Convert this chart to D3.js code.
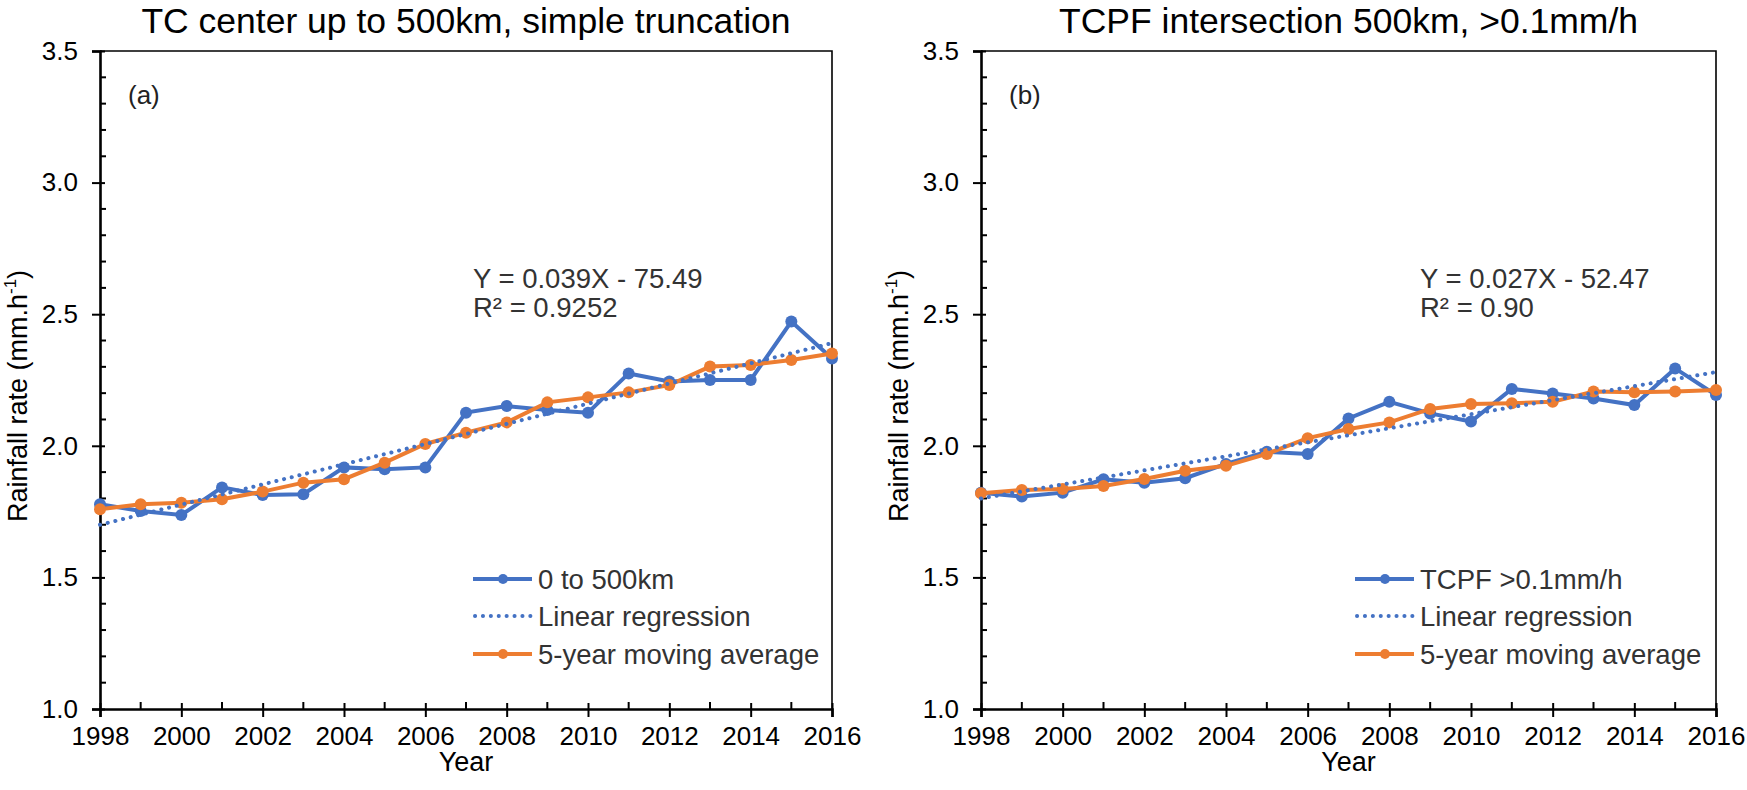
<!DOCTYPE html>
<html>
<head>
<meta charset="utf-8">
<script src="https://cdn.jsdelivr.net/npm/d3@7.9.0/dist/d3.min.js"></script>
<style>
  body { margin: 0; background: #fff; }
  svg { font-family: "Liberation Sans", Arial, sans-serif; }
</style>
</head>
<body>
<svg id="chart" width="1747" height="790"></svg>
<script>
// Data
const years = [1998, 1999, 2000, 2001, 2002, 2003, 2004, 2005, 2006, 2007,
               2008, 2009, 2010, 2011, 2012, 2013, 2014, 2015, 2016];

const rainA = [1.778, 1.752, 1.737, 1.842, 1.813, 1.816, 1.918, 1.911, 1.918, 2.126,
               2.151, 2.136, 2.126, 2.275, 2.244, 2.250, 2.250, 2.472, 2.332];
const avgA  = [1.759, 1.778, 1.784, 1.797, 1.826, 1.860, 1.873, 1.936, 2.007, 2.050,
               2.089, 2.165, 2.184, 2.203, 2.231, 2.301, 2.307, 2.326, 2.351];
const trendA = [1.70, 2.39];   // regression line at 1998 and 2016

const rainB = [1.822, 1.807, 1.822, 1.873, 1.860, 1.877, 1.931, 1.977, 1.969, 2.104,
               2.167, 2.123, 2.092, 2.216, 2.199, 2.180, 2.155, 2.294, 2.193];
const avgB  = [1.820, 1.832, 1.836, 1.847, 1.874, 1.905, 1.924, 1.969, 2.029, 2.064,
               2.089, 2.140, 2.159, 2.162, 2.167, 2.206, 2.203, 2.206, 2.212];
const trendB = [1.80, 2.28];

const yTicks = [1.0, 1.5, 2.0, 2.5, 3.0, 3.5];
const yMinor = [1.1, 1.2, 1.3, 1.4, 1.6, 1.7, 1.8, 1.9, 2.1, 2.2, 2.3, 2.4,
                2.6, 2.7, 2.8, 2.9, 3.1, 3.2, 3.3, 3.4];
const xTicks = [1998, 2000, 2002, 2004, 2006, 2008, 2010, 2012, 2014, 2016];

const panels = [
  {
    left: 100, right: 832, title: "TC center up to 500km, simple truncation",
    tag: "(a)", rain: rainA, avg: avgA, trend: trendA, eqX: 473, legX: 473,
    eq: ["Y = 0.039X - 75.49", "R² = 0.9252"],
    legend: ["0 to 500km", "Linear regression", "5-year moving average"]
  },
  {
    left: 981, right: 1716, title: "TCPF intersection 500km, >0.1mm/h",
    tag: "(b)", rain: rainB, avg: avgB, trend: trendB, eqX: 1420, legX: 1355,
    eq: ["Y = 0.027X - 52.47", "R² = 0.90"],
    legend: ["TCPF >0.1mm/h", "Linear regression", "5-year moving average"]
  }
];

const blue = "#4472C4";
const orange = "#ED7D31";
const plotTop = 51, plotBottom = 709;

const svg = d3.select("#chart");

panels.forEach((p) => {
  const x = d3.scaleLinear().domain([1998, 2016]).range([p.left, p.right]);
  const y = d3.scaleLinear().domain([1.0, 3.5]).range([plotBottom, plotTop]);
  const g = svg.append("g");

  // frame (top and right)
  g.append("path")
    .attr("d", `M${p.left},${plotTop}H${p.right}V${plotBottom}`)
    .attr("fill", "none").attr("stroke", "#000").attr("stroke-width", 1.6);

  // y axis
  const yAxis = g.append("g").attr("transform", `translate(${p.left},0)`)
    .call(d3.axisLeft(y).tickValues(yTicks).tickFormat(d3.format(".1f"))
      .tickSize(8).tickPadding(14));
  yAxis.select(".domain").attr("stroke-width", 2.6);
  yAxis.selectAll(".tick line").attr("x2", -8).attr("x1", 5).attr("stroke-width", 2);
  yAxis.selectAll(".tick text").attr("font-size", 26).attr("fill", "#000")
    .attr("font-family", "Liberation Sans, Arial, sans-serif");
  g.append("g").selectAll("line").data(yMinor).join("line")
    .attr("x1", p.left).attr("x2", p.left + 6)
    .attr("y1", (d) => y(d)).attr("y2", (d) => y(d))
    .attr("stroke", "#000").attr("stroke-width", 2);

  // x axis
  const xAxis = g.append("g").attr("transform", `translate(0,${plotBottom})`)
    .call(d3.axisBottom(x).tickValues(xTicks).tickFormat(d3.format("d"))
      .tickSize(8).tickPadding(10));
  xAxis.select(".domain").attr("stroke-width", 2.6);
  xAxis.selectAll(".tick line").attr("y1", -6).attr("y2", 8).attr("stroke-width", 2);
  xAxis.selectAll(".tick text").attr("font-size", 26).attr("fill", "#000")
    .attr("font-family", "Liberation Sans, Arial, sans-serif");
  g.append("g").selectAll("line").data(years.filter((d) => !xTicks.includes(d))).join("line")
    .attr("x1", (d) => x(d)).attr("x2", (d) => x(d))
    .attr("y1", plotBottom).attr("y2", plotBottom - 7)
    .attr("stroke", "#000").attr("stroke-width", 2);

  const mid = (p.left + p.right) / 2;

  // title and axis labels
  g.append("text").attr("x", mid).attr("y", 33).attr("text-anchor", "middle")
    .attr("font-size", 35.5).attr("fill", "#000").text(p.title);
  g.append("text").attr("x", mid).attr("y", 771).attr("text-anchor", "middle")
    .attr("font-size", 27).attr("fill", "#000").text("Year");
  const yl = g.append("text")
    .attr("transform", `translate(${p.left - 73},396) rotate(-90)`)
    .attr("text-anchor", "middle").attr("font-size", 27).attr("fill", "#000");
  yl.append("tspan").text("Rainfall rate (mm.h");
  yl.append("tspan").attr("font-size", 17).attr("dy", -11).text("-1");
  yl.append("tspan").attr("dy", 11).text(")");

  g.append("text").attr("x", p.left + 28).attr("y", 104)
    .attr("font-size", 26).attr("fill", "#222").text(p.tag);

  // equation
  p.eq.forEach((t, i) => {
    g.append("text").attr("x", p.eqX).attr("y", 288 + i * 29)
      .attr("font-size", 27.5).attr("fill", "#333").text(t);
  });

  // series
  const line = d3.line().x((d, i) => x(years[i])).y((d) => y(d));

  g.append("path").datum(p.rain).attr("d", line)
    .attr("fill", "none").attr("stroke", blue).attr("stroke-width", 4);
  g.append("g").selectAll("circle").data(p.rain).join("circle")
    .attr("cx", (d, i) => x(years[i])).attr("cy", (d) => y(d)).attr("r", 6)
    .attr("fill", blue);

  g.append("path").datum(p.avg).attr("d", line)
    .attr("fill", "none").attr("stroke", orange).attr("stroke-width", 4);
  g.append("g").selectAll("circle").data(p.avg).join("circle")
    .attr("cx", (d, i) => x(years[i])).attr("cy", (d) => y(d)).attr("r", 6)
    .attr("fill", orange);

  g.append("line")
    .attr("x1", x(1998)).attr("y1", y(p.trend[0]))
    .attr("x2", x(2016)).attr("y2", y(p.trend[1]))
    .attr("stroke", blue).attr("stroke-width", 4)
    .attr("stroke-linecap", "round").attr("stroke-dasharray", "0.1 7.8");

  // legend
  const lx = p.legX;
  const ly = [579, 616, 654];
  const lg = g.append("g");
  lg.append("line").attr("x1", lx).attr("x2", lx + 59).attr("y1", ly[0]).attr("y2", ly[0])
    .attr("stroke", blue).attr("stroke-width", 4);
  lg.append("circle").attr("cx", lx + 30).attr("cy", ly[0]).attr("r", 5).attr("fill", blue);
  lg.append("line").attr("x1", lx + 2).attr("x2", lx + 59).attr("y1", ly[1]).attr("y2", ly[1])
    .attr("stroke", blue).attr("stroke-width", 4)
    .attr("stroke-linecap", "round").attr("stroke-dasharray", "0.1 7.8");
  lg.append("line").attr("x1", lx).attr("x2", lx + 59).attr("y1", ly[2]).attr("y2", ly[2])
    .attr("stroke", orange).attr("stroke-width", 4);
  lg.append("circle").attr("cx", lx + 30).attr("cy", ly[2]).attr("r", 5).attr("fill", orange);

  p.legend.forEach((t, i) => {
    lg.append("text").attr("x", lx + 65).attr("y", ly[i] + 9.5)
      .attr("font-size", 27.5).attr("fill", "#333").text(t);
  });
});
</script>
</body>
</html>
